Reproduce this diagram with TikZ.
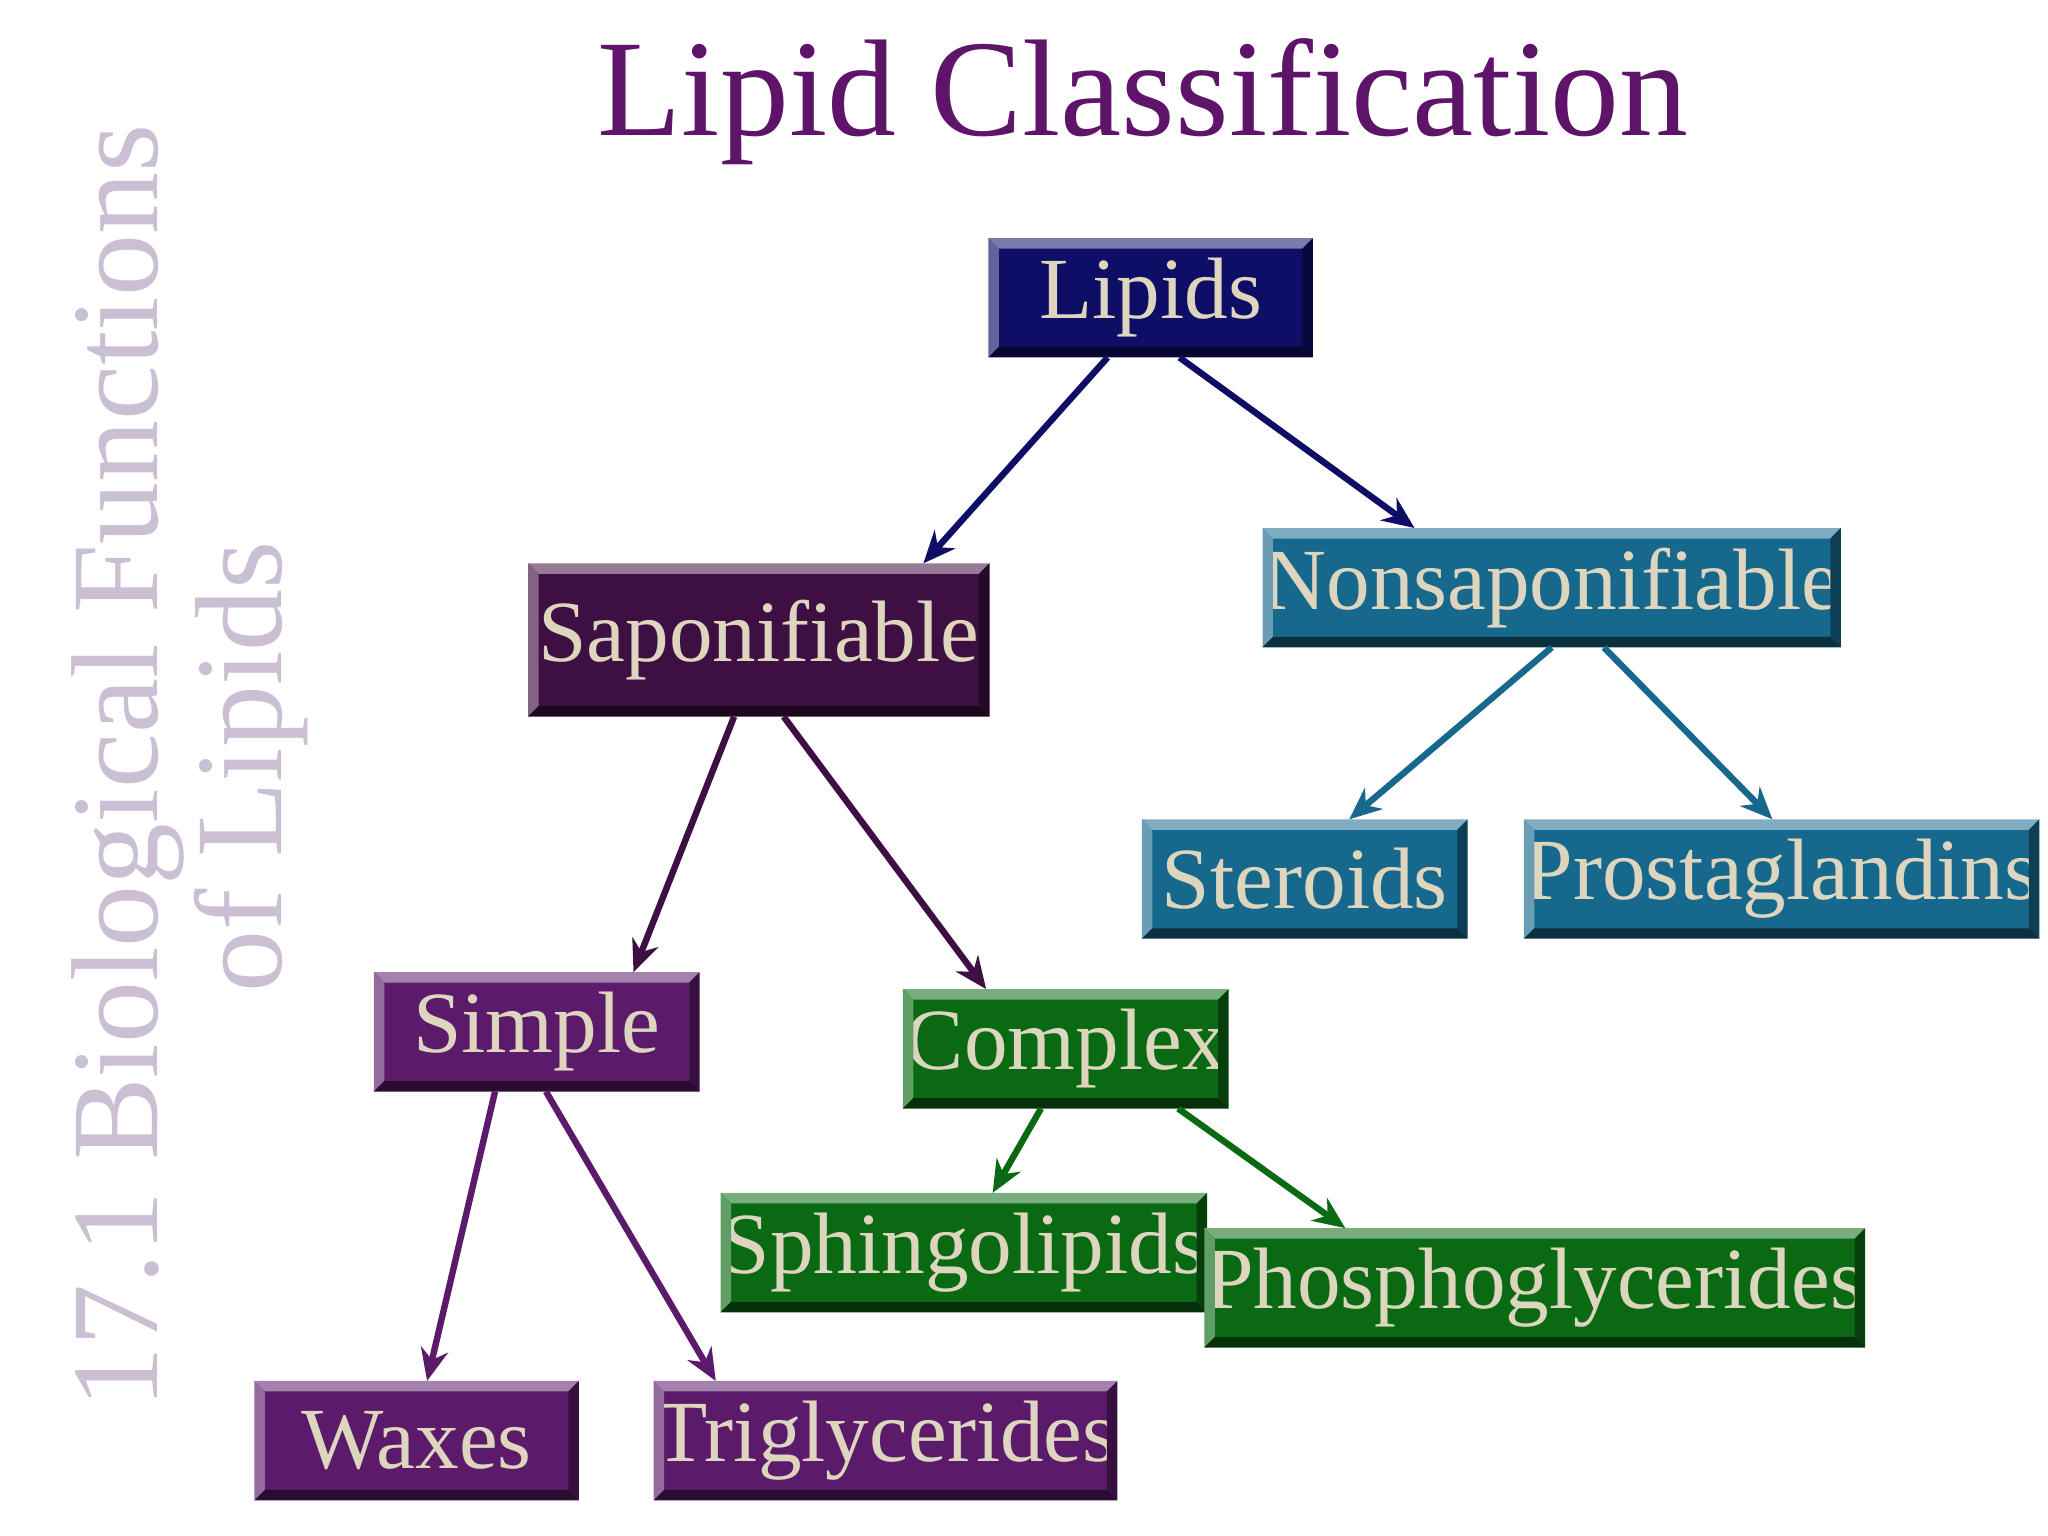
\documentclass[tikz,border=0pt]{standalone}
\usepackage{fontspec}
\setmainfont{Liberation Serif}
\usetikzlibrary{arrows.meta}
\definecolor{navyc}{HTML}{0E0E66}
\definecolor{sapc}{HTML}{3E0F42}
\definecolor{tealc}{HTML}{16688C}
\definecolor{purpc}{HTML}{5C1A6A}
\definecolor{greenc}{HTML}{0A6A14}
\definecolor{txtc}{HTML}{DDD5BE}
\definecolor{titlec}{HTML}{5E1468}
\definecolor{sidec}{HTML}{CBBFD4}
\newcommand{\bevel}[2]{%
  \fill[#2!55!white] (#1.north west) -- (#1.north east) -- ([shift={(-0.08,-0.08)}]#1.north east) -- ([shift={(0.08,-0.08)}]#1.north west) -- cycle;
  \fill[#2!65!white] (#1.north west) -- ([shift={(0.08,-0.08)}]#1.north west) -- ([shift={(0.08,0.08)}]#1.south west) -- (#1.south west) -- cycle;
  \fill[#2!60!black] (#1.north east) -- (#1.south east) -- ([shift={(-0.08,0.08)}]#1.south east) -- ([shift={(-0.08,-0.08)}]#1.north east) -- cycle;
  \fill[#2!45!black] (#1.south west) -- (#1.south east) -- ([shift={(-0.08,0.08)}]#1.south east) -- ([shift={(0.08,0.08)}]#1.south west) -- cycle;}
\begin{document}
\begin{tikzpicture}[
    box/.style = {fill = #1, text = txtc, minimum height = 0.9cm, inner sep = 0pt, font = \fontsize{19}{19}\selectfont},
    link/.style = {draw = #1, line width = 1.4pt, -{Stealth[length = 7pt, width = 6pt]}}
  ]
  \useasboundingbox (0, 0) rectangle (15.68, -11.76);
  \node[text = titlec, font = \fontsize{30}{30}\selectfont] (Title) at (8.75, -0.78) {Lipid Classification};
  \node[text = sidec, rotate = 90, font = \fontsize{27}{27}\selectfont, align = center] (Side) at (1.45, -5.87) {17.1 Biological Functions\\of Lipids};
  \node[box = navyc, minimum width = 2.47cm] (Lipids) at (8.81, -2.28) {Lipids};
  \node[box = sapc, minimum width = 3.52cm, minimum height = 1.16cm] (Sap) at (5.81, -4.90) {Saponifiable};
  \node[box = tealc, minimum width = 4.17cm] (Nonsap) at (11.88, -4.50) {Nonsaponifiable};
  \node[box = tealc, minimum width = 2.48cm] (Steroids) at (9.99, -6.73) {Steroids};
  \node[box = tealc, minimum width = 3.53cm] (Prost) at (13.64, -6.73) {Prostaglandins};
  \node[box = purpc, minimum width = 2.48cm] (Simple) at (4.11, -7.90) {Simple};
  \node[box = greenc, minimum width = 2.48cm] (Complex) at (8.16, -8.03) {Complex};
  \node[box = greenc, minimum width = 3.52cm] (Sphingo) at (7.38, -9.59) {Sphingolipids};
  \node[box = greenc, minimum width = 4.43cm] (Phospho) at (11.75, -9.86) {Phosphoglycerides};
  \node[box = purpc, minimum width = 2.47cm] (Waxes) at (3.19, -11.03) {Waxes};
  \node[box = purpc, minimum width = 3.13cm] (Trig) at (6.78, -11.03) {Triglycerides};
  \bevel{Lipids}{navyc}
  \bevel{Sap}{sapc}
  \bevel{Nonsap}{tealc}
  \bevel{Steroids}{tealc}
  \bevel{Prost}{tealc}
  \bevel{Simple}{purpc}
  \bevel{Complex}{greenc}
  \bevel{Sphingo}{greenc}
  \bevel{Phospho}{greenc}
  \bevel{Waxes}{purpc}
  \bevel{Trig}{purpc}
  \draw[link = navyc] ([xshift = -0.33cm]Lipids.south) -- ([xshift = 1.26cm]Sap.north);
  \draw[link = navyc] ([xshift = 0.22cm]Lipids.south) -- ([xshift = -1.05cm]Nonsap.north);
  \draw[link = sapc] ([xshift = -0.19cm]Sap.south) -- ([xshift = 0.74cm]Simple.north);
  \draw[link = sapc] ([xshift = 0.19cm]Sap.south) -- ([xshift = -0.61cm]Complex.north);
  \draw[link = tealc] (Nonsap.south) -- ([xshift = 0.34cm]Steroids.north);
  \draw[link = tealc] ([xshift = 0.40cm]Nonsap.south) -- ([xshift = -0.07cm]Prost.north);
  \draw[link = purpc] ([xshift = -0.32cm]Simple.south) -- ([xshift = 0.08cm]Waxes.north);
  \draw[link = purpc] ([xshift = 0.07cm]Simple.south) -- ([xshift = -1.30cm]Trig.north);
  \draw[link = greenc] ([xshift = -0.19cm]Complex.south) -- ([xshift = 0.22cm]Sphingo.north);
  \draw[link = greenc] ([xshift = 0.86cm]Complex.south) -- ([xshift = -1.45cm]Phospho.north);
\end{tikzpicture}
\end{document}
